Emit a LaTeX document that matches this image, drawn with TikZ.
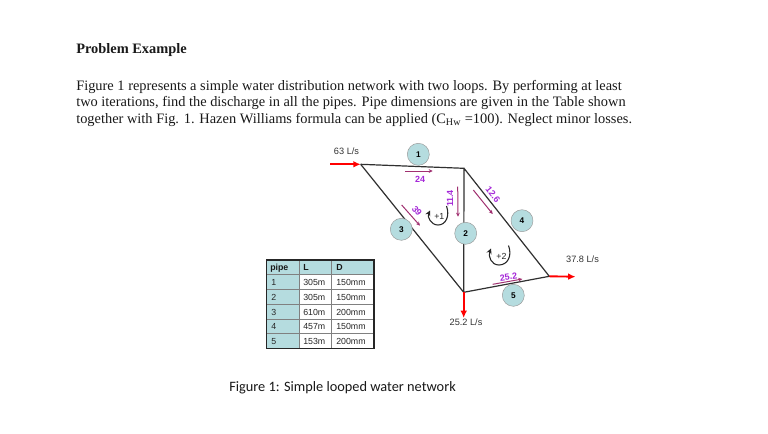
\documentclass[tikz,border=0pt]{standalone}
\usepackage{fontspec}
\setmainfont{Liberation Serif}
\setsansfont{Liberation Sans}
\newfontfamily\capfont{Carlito}
\usetikzlibrary{arrows.meta}
\definecolor{teal1}{HTML}{B5DCDF}
\definecolor{flowc}{HTML}{A03070}
\definecolor{labc}{HTML}{A528D8}
\definecolor{pipec}{HTML}{303030}
\tikzset{
  x=0.75pt,y=-0.75pt,
  para/.style={anchor=base west,inner sep=0pt,font=\fontsize{10.8}{13}\selectfont,text=black!90},
  pipe/.style={draw=pipec,line width=0.9pt},
  junction/.style={inner sep=0pt,minimum size=0pt},
  feed/.style={draw=red,line width=1.4pt,-{Latex[length=5.5pt,width=5pt]}},
  flow/.style={draw=flowc,line width=0.75pt,-{Stealth[length=3pt,width=2.8pt]}},
  pipenum/.style={circle,draw=black!40,line width=0.35pt,fill=teal1,minimum size=16.5pt,inner sep=0pt,font=\sffamily\bfseries\fontsize{6.2}{7}\selectfont},
  flowlab/.style={inner sep=0pt,text=labc,font=\sffamily\bfseries\fontsize{6.7}{8}\selectfont},
  demand/.style={inner sep=0pt,text=black!80,font=\sffamily\fontsize{6.9}{8}\selectfont},
  looparc/.style={draw=black!85,line width=0.8pt,-{Stealth[length=4pt,width=4pt]}},
  loopnum/.style={inner sep=0pt,text=black!85,font=\sffamily\fontsize{6.6}{8}\selectfont},
  ttext/.style={inner sep=0pt,text=black!85,font=\sffamily\fontsize{6.6}{8}\selectfont},
  thead/.style={inner sep=0pt,text=black!90,font=\sffamily\bfseries\fontsize{6.6}{8}\selectfont}
}
\begin{document}
\begin{tikzpicture}
\useasboundingbox (0,0) rectangle (768,433);
\fill[white] (0,0) rectangle (768,433);
% text
\node[para,font=\fontsize{10.8}{13}\selectfont\bfseries] (title) at (76,53) {Problem Example};
\node[para] (l1) at (76,90) {Figure 1 represents a simple water distribution network with two loops. By performing at least};
\node[para] (l2) at (76,106.5) {two iterations, find the discharge in all the pipes. Pipe dimensions are given in the Table shown};
\node[para] (l3) at (76,123) {together with Fig. 1. Hazen Williams formula can be applied (C\textsubscript{Hw} =100). Neglect minor losses.};
\node[para,font=\capfont\fontsize{10.75}{13}\selectfont] (cap) at (229,391) {Figure 1: Simple looped water network};
% network
\node[junction] (A) at (360.7,164.3) {};
\node[junction] (B) at (464,168.3) {};
\node[junction] (C) at (463.7,292.3) {};
\node[junction] (D) at (549.3,276.3) {};
\coordinate (inS) at (330,164.3);
\coordinate (outD) at (575.5,276.7);
\coordinate (outC) at (463.7,318);
\draw[pipe] (A.center) -- (B.center) -- (C.center) -- (D.center) -- (B.center);
\draw[pipe] (A.center) -- (C.center);
\draw[feed] (inS) -- (A.center);
\draw[feed] (D.center) -- (outD);
\draw[feed] (C.center) -- (outC);
\node[pipenum] (n1) at (418.3,154.3) {1};
\node[pipenum] (n2) at (465.7,233.3) {2};
\node[pipenum] (n3) at (401.3,229.3) {3};
\node[pipenum] (n4) at (522,220.7) {4};
\node[pipenum] (n5) at (513.3,295.3) {5};
\draw[flow] (405,171) -- (432.7,171);
\draw[flow] (457.7,186.7) -- (458,216.7);
\draw[flow] (473.3,190) -- (492.7,214);
\draw[flow] (401.7,205) -- (420,225.7);
\draw[flow] (492.7,284.3) -- (522.3,279);
\node[flowlab] (f24) at (420,179.5) {24};
\node[flowlab,rotate=90] (f114) at (450,198.5) {11.4};
\node[flowlab,rotate=-52] (f126) at (493,194.5) {12.6};
\node[flowlab,rotate=-50] (f39) at (417,211) {39};
\node[flowlab,rotate=8] (f252) at (508.5,277) {25.2};
\node[demand] (q63) at (346.5,151) {63 L/s};
\node[demand] (q378) at (582.5,259.5) {37.8 L/s};
\node[demand] (q252) at (466,322.5) {25.2 L/s};
\node[loopnum] (p1) at (439.3,216.7) {+1};
\node[loopnum] (p2) at (501.5,256.7) {+2};
\draw[looparc] (446.5,206) .. controls (450,216) and (446,225) .. (438,225) .. controls (431,225) and (427,217) .. (430,210.5);
\draw[looparc] (508.5,245.5) .. controls (512.5,256) and (507.5,265) .. (499,265) .. controls (491,265) and (488,256) .. (491,248.5);
% table
\def\xa{266.7}\def\xb{299.3}\def\xc{331.7}\def\xd{374}
\fill[teal1] (\xa,260) rectangle (\xd,274);
\fill[teal1] (\xa,260) rectangle (\xb,348.3);
\foreach \ya/\yb in {260/274,274/289.3,289.3/304,304/319,319/333.3,333.3/348.3}{
  \draw[black!50,line width=0.4pt] (\xa,\ya) rectangle (\xd,\yb);
}
\draw[black!50,line width=0.4pt] (\xb,260) -- (\xb,348.3) (\xc,260) -- (\xc,348.3);
\draw[black!85,line width=1pt] (\xa,260) rectangle (\xd,348.3);
\node[thead,anchor=base west] (h1) at (270,270.5) {pipe};
\node[thead,anchor=base west] (h2) at (303,270.5) {L};
\node[thead,anchor=base west] (h3) at (336,270.5) {D};
\foreach \i/\y/\L/\D in {1/285.5/305m/150mm,2/300/305m/150mm,3/315/610m/200mm,4/329.5/457m/150mm,5/344.5/153m/200mm}{
  \node[ttext,anchor=base west] (p\i) at (271,\y) {\i};
  \node[ttext,anchor=base west] (len\i) at (303,\y) {\L};
  \node[ttext,anchor=base west] (dia\i) at (336,\y) {\D};
}
\end{tikzpicture}
\end{document}
